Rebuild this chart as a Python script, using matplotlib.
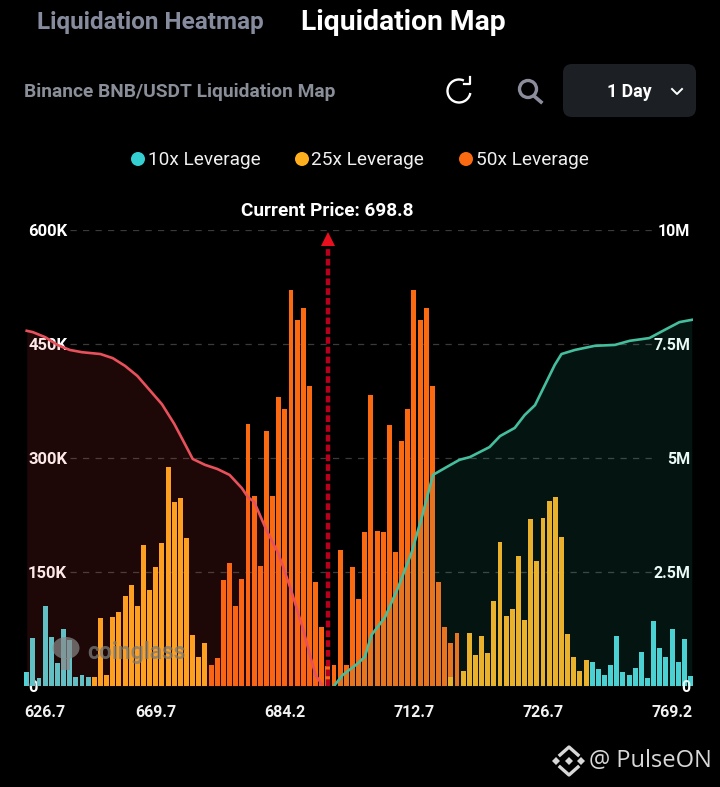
import numpy as np
import matplotlib
matplotlib.use('Agg')
import matplotlib.pyplot as plt
from matplotlib.patches import FancyBboxPatch, Arc, Circle, Ellipse, Rectangle

plt.rcParams['font.family'] = ['Roboto', 'DejaVu Sans']

# bar heights in thousands, left to right
lev10_left = [19, 63, 10, 105, 65, 30, 75, 61, 12, 15, 12]
lev25_left = [12, 89, 15, 91, 98, 119, 133, 105, 186, 126, 156, 188, 288, 242, 248, 195, 67, 38, 56]
lev50_mid = [28, 37, 139, 162, 105, 141, 345, 250, 158, 336, 250, 380, 364, 521, 482, 497, 395, 137, 77,
             26, 28, 179, 28, 156, 114, 202, 383, 204, 202, 343, 176, 322, 364, 521, 482, 497, 395, 137,
             77, 44, 70]
lev25_small = [12]
lev25_right = [20, 70, 41, 66, 43, 112, 189, 92, 101, 171, 87, 220, 164, 221, 243, 249, 196, 68, 38, 20, 34]
lev10_right = [32, 22, 15, 27, 66, 18, 15, 24, 45, 11, 85, 50, 38, 75, 32, 62, 13]

# cumulative curves, millions
short_idx = [0, 1, 3, 5, 7, 9, 12, 14, 16, 18, 20, 22, 24, 26, 27, 29, 31, 33, 35, 36, 37, 39, 41, 43, 45, 46, 47, 48]
short_val = [7.79, 7.76, 7.65, 7.48, 7.37, 7.32, 7.28, 7.19, 7.02, 6.80, 6.49, 6.18, 5.75, 5.24, 4.98, 4.85, 4.76,
             4.63, 4.34, 4.14, 4.04, 3.42, 2.89, 2.11, 1.23, 0.72, 0.24, 0.04]
long_idx = [50.1, 51.4, 53.9, 55, 56.1, 58.3, 60.4, 62.6, 64.3, 66.1, 68.3, 70.4, 72.1, 73.7, 75.3, 77, 79.4, 81,
            82.7, 84.3, 85.9, 87, 89.2, 92.4, 95.7, 98.1, 101.3, 103.8, 106.2, 108.2]
long_val = [0.02, 0.24, 0.5, 0.64, 1.12, 1.51, 2.15, 2.92, 3.71, 4.63, 4.8, 4.96, 5.02, 5.13, 5.24, 5.48, 5.66, 5.94,
            6.16, 6.6, 7.04, 7.28, 7.37, 7.46, 7.48, 7.57, 7.63, 7.81, 7.98, 8.03]

price_ticks = [3, 21, 42, 63, 84, 105]
price_labels = ['626.7', '669.7', '684.2', '712.7', '726.7', '769.2']
left_ticks = [0, 150, 300, 450, 600]
left_labels = ['0', '150K', '300K', '450K', '600K']
right_ticks = [0, 2.5, 5, 7.5, 10]
right_labels = ['0', '2.5M', '5M', '7.5M', '10M']
current_idx = 49
current_price = 698.8

W, H = 720, 787
fig = plt.figure(figsize=(W / 100, H / 100), dpi=100, facecolor='black')
ax = fig.add_axes([24 / W, 1 - 686 / H, 669 / W, 456 / H], facecolor='black')

# stack the three leverage series over one category axis
n = 109
x = np.arange(n)
lev10 = np.zeros(n)
lev25 = np.zeros(n)
lev50 = np.zeros(n)
lev10[:11] = lev10_left
lev25[11:30] = lev25_left
lev50[30:71] = lev50_mid
lev25[69] = lev25_small[0]
lev25[71:92] = lev25_right
lev10[92:] = lev10_right

ax.bar(x, lev10, width=0.8, color='#4FD2D6', zorder=2)
ax.bar(x, lev25, width=0.8, bottom=lev10, color='#FFAE1E', zorder=2)
ax.bar(x, lev50, width=0.8, bottom=lev10 + lev25, color='#FB6A10', zorder=2)

ax.hlines(left_ticks[1:], 7, 102, color='#3a3a3a', lw=0.9, linestyles=(0, (5, 5)), zorder=1)

ax.set_xlim(-0.44, 108.4)
ax.set_ylim(0, 600)
ax.set_xticks(price_ticks)
ax.set_xticklabels(price_labels, color='#f2f2f2', fontsize=11.5, fontweight='bold')
ax.tick_params(axis='x', length=0, pad=14)
ax.set_yticks(left_ticks)
ax.set_yticklabels(left_labels, color='white', fontsize=12, fontweight='bold', ha='left')
ax.tick_params(axis='y', length=0, pad=-3, direction='in')
for sp in ax.spines.values():
    sp.set_visible(False)

ax2 = ax.twinx()
ax2.set_ylim(0, 10)
ax2.set_yticks(right_ticks)
ax2.set_yticklabels(right_labels, color='white', fontsize=11.5, fontweight='bold', ha='right')
ax2.tick_params(axis='y', length=0, pad=-2, direction='in')
for sp in ax2.spines.values():
    sp.set_visible(False)

ax2.fill_between(short_idx, short_val, 0, color='#F03C3C', alpha=0.12, lw=0, zorder=3)
ax2.fill_between(long_idx, long_val, 0, color='#2FD0B0', alpha=0.10, lw=0, zorder=3)
ax2.plot(short_idx, short_val, color='#E8505C', lw=1.9, zorder=4)
ax2.plot(long_idx, long_val, color='#45BE9E', lw=1.9, zorder=4)

ax2.plot([current_idx, current_idx], [0, 9.7], color='#B8001C', lw=3.2, ls=(0, (1.5, 0.7)), zorder=5)
ax2.plot([current_idx], [9.8], marker='^', ms=9.5, color='#E8101E', mew=0, zorder=6, clip_on=False)

# page furniture in pixel coordinates
ui = fig.add_axes([0, 0, 1, 1], facecolor='none')
ui.set_xlim(0, W)
ui.set_ylim(H, 0)
ui.axis('off')

ui.text(37, 22, 'Liquidation Heatmap', color='#868c9e', fontsize=17.5, fontweight='bold', va='center')
ui.text(301, 23, 'Liquidation Map', color='white', fontsize=20.3, fontweight='bold', va='center')
ui.text(24, 92, 'Binance BNB/USDT Liquidation Map', color='#8a8e98', fontsize=13.8, fontweight='bold', va='center')

ui.add_patch(Arc((459, 91), 23, 23, theta1=10, theta2=295, color='white', lw=1.7))
ui.plot([464, 470, 470], [84, 84, 77], color='white', lw=1.6)
ui.add_patch(Circle((528, 89), 8.5, fill=False, ec='#8b8d9c', lw=2.4))
ui.plot([534, 541], [96, 102], color='#8b8d9c', lw=2.6)
ui.add_patch(FancyBboxPatch((563, 64), 133, 53, boxstyle='round,pad=0,rounding_size=9', fc='#1c2024', ec='none'))
ui.text(629, 92, '1 Day', color='white', fontsize=12.8, fontweight='bold', va='center', ha='center')
ui.plot([672, 677, 682], [89, 94, 89], color='white', lw=1.4)

for cx, tx, col, lab in [(138, 148, '#35CFD2', '10x Leverage'), (302, 311, '#FFAE1E', '25x Leverage'), (466, 476, '#FB6A10', '50x Leverage')]:
    ui.add_patch(Circle((cx, 159), 7, fc=col, ec='none'))
    ui.text(tx, 160, lab, color='#f0f0f0', fontsize=13.7, va='center')

ui.text(327, 211, f'Current Price: {current_price}', color='white', fontsize=13.7, fontweight='bold', va='center', ha='center')

# watermark
ui.text(87, 653, 'coinglass', color='#7c7c7c', alpha=0.75, fontsize=16.5, fontweight='bold', va='center')
ui.add_patch(Ellipse((66, 648), 27, 22, fc='#8a8a8a', ec='none', alpha=0.7))
ui.add_patch(Rectangle((61, 658), 9, 12, fc='#8a8a8a', ec='none', alpha=0.7))

ui.text(589, 761, '@ PulseON', color='#d8d8d8', fontsize=17, family='Open Sans', va='center')
for mx, my in [(569, 761), (556, 761), (581, 761)]:
    ui.plot(mx, my, marker='D', ms=3.6, color='#d8d8d8', mew=0)
ui.plot([560, 569, 578], [755, 747, 755], color='#d8d8d8', lw=2.4)
ui.plot([560, 569, 578], [767, 775, 767], color='#d8d8d8', lw=2.4)

fig.savefig('out.png', dpi=100, facecolor='black')
